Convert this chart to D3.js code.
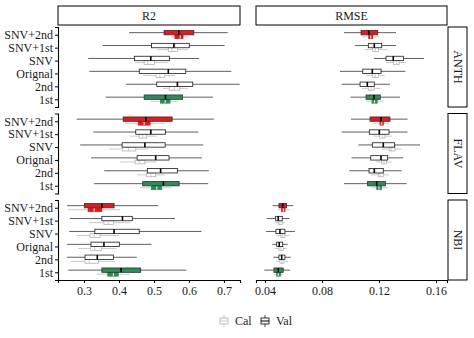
<!DOCTYPE html>
<html><head><meta charset="utf-8">
<script src="https://cdn.jsdelivr.net/npm/d3@7"></script>
<style>body{margin:0;background:#fff}svg{display:block}</style>
</head><body><svg id="c" width="474" height="338"></svg>
<script>
const categories = ["SNV+2nd","SNV+1st","SNV","Orignal","2nd","1st"];
const traits = ["ANTH","FLAV","NBI"];
const metrics = ["R2","RMSE"];
const groups = ["Cal","Val"];
const r2Ticks = [0.3,0.4,0.5,0.6,0.7];
const rmseTicks = [0.04,0.08,0.12,0.16];
// [whiskerMin, q1, median, q3, whiskerMax] per category
const anthR2Val = [[0.429,0.529,0.571,0.614,0.711],[0.353,0.493,0.557,0.601,0.702],[0.312,0.444,0.491,0.544,0.629],[0.315,0.458,0.541,0.591,0.721],[0.420,0.508,0.567,0.611,0.745],[0.362,0.472,0.533,0.582,0.669]];
const anthR2Cal = [[0.550,0.560,0.575,0.583,0.600],[0.509,0.541,0.551,0.568,0.597],[0.446,0.472,0.482,0.501,0.540],[0.469,0.506,0.517,0.531,0.560],[0.526,0.544,0.558,0.574,0.597],[0.490,0.519,0.532,0.546,0.570]];
const anthRmseVal = [[0.0954,0.1074,0.1128,0.1191,0.1319],[0.1032,0.1125,0.1167,0.1219,0.1319],[0.1165,0.1249,0.1300,0.1371,0.1516],[0.0926,0.1086,0.1153,0.1214,0.1385],[0.0938,0.1067,0.1118,0.1167,0.1277],[0.1001,0.1109,0.1165,0.1209,0.1347]];
const anthRmseCal = [[0.1080,0.1128,0.1142,0.1156,0.1200],[0.1100,0.1156,0.1174,0.1196,0.1260],[0.1250,0.1300,0.1324,0.1342,0.1390],[0.1110,0.1153,0.1174,0.1196,0.1240],[0.1080,0.1125,0.1144,0.1165,0.1210],[0.1110,0.1151,0.1168,0.1187,0.1230]];
const flavR2Val = [[0.279,0.412,0.477,0.552,0.671],[0.327,0.448,0.491,0.533,0.627],[0.289,0.409,0.474,0.532,0.641],[0.320,0.452,0.505,0.543,0.637],[0.358,0.481,0.519,0.567,0.657],[0.329,0.468,0.527,0.572,0.655]];
const flavR2Cal = [[0.417,0.455,0.472,0.489,0.531],[0.431,0.458,0.468,0.479,0.508],[0.372,0.410,0.427,0.448,0.484],[0.403,0.446,0.458,0.474,0.508],[0.451,0.479,0.491,0.505,0.531],[0.460,0.493,0.508,0.522,0.550]];
const flavRmseVal = [[0.1003,0.1137,0.1214,0.1277,0.1400],[0.0938,0.1132,0.1202,0.1270,0.1400],[0.1055,0.1153,0.1230,0.1310,0.1488],[0.1008,0.1142,0.1214,0.1261,0.1370],[0.0992,0.1130,0.1167,0.1230,0.1359],[0.0954,0.1120,0.1184,0.1245,0.1394]];
const flavRmseCal = [[0.1160,0.1207,0.1219,0.1230,0.1270],[0.1160,0.1202,0.1223,0.1242,0.1290],[0.1220,0.1272,0.1286,0.1312,0.1360],[0.1180,0.1219,0.1235,0.1253,0.1290],[0.1140,0.1195,0.1207,0.1230,0.1270],[0.1140,0.1184,0.1200,0.1218,0.1260]];
const nbiR2Val = [[0.252,0.301,0.351,0.386,0.512],[0.260,0.351,0.410,0.438,0.560],[0.258,0.331,0.386,0.458,0.636],[0.252,0.320,0.357,0.401,0.493],[0.251,0.303,0.338,0.384,0.451],[0.255,0.351,0.406,0.462,0.593]];
const nbiR2Cal = [[0.254,0.312,0.329,0.351,0.403],[0.315,0.357,0.369,0.384,0.431],[0.279,0.317,0.329,0.346,0.398],[0.283,0.319,0.331,0.351,0.393],[0.262,0.303,0.315,0.341,0.389],[0.336,0.368,0.384,0.398,0.431]];
const nbiRmseVal = [[0.0454,0.0498,0.0524,0.0552,0.0599],[0.0412,0.0475,0.0493,0.0521,0.0571],[0.0407,0.0477,0.0505,0.0540,0.0610],[0.0452,0.0482,0.0500,0.0524,0.0559],[0.0459,0.0498,0.0517,0.0540,0.0580],[0.0395,0.0463,0.0493,0.0528,0.0575]];
const nbiRmseCal = [[0.0490,0.0517,0.0529,0.0540,0.0570],[0.0470,0.0493,0.0505,0.0521,0.0540],[0.0480,0.0512,0.0524,0.0540,0.0570],[0.0470,0.0498,0.0512,0.0529,0.0550],[0.0480,0.0505,0.0519,0.0533,0.0560],[0.0460,0.0482,0.0493,0.0509,0.0530]];

const dataByPanel = {
  "ANTH|R2": {Val: anthR2Val, Cal: anthR2Cal},
  "ANTH|RMSE": {Val: anthRmseVal, Cal: anthRmseCal},
  "FLAV|R2": {Val: flavR2Val, Cal: flavR2Cal},
  "FLAV|RMSE": {Val: flavRmseVal, Cal: flavRmseCal},
  "NBI|R2": {Val: nbiR2Val, Cal: nbiR2Cal},
  "NBI|RMSE": {Val: nbiRmseVal, Cal: nbiRmseCal}
};

const FONT = "'Liberation Serif','Times New Roman',serif";
const svg = d3.select("#c");
const fillScale = d3.scaleOrdinal().domain(categories)
  .range(["#e3191c","#ffffff","#ffffff","#ffffff","#ffffff","#2e8b57"]);
const strokeCol = {Val: "#1a1a1a", Cal: "#b3b3b3"};
const whiskCol = {Val: "#4d4d4d", Cal: "#c4c4c4"};
const medCol = {Val: "#000000", Cal: "#c8c8c8"};

const xScales = {
  R2: d3.scaleLinear().domain([0.2257, 0.746]).range([58, 240]),
  RMSE: d3.scaleLinear().domain([0.0337, 0.1677]).range([256, 447])
};
const tickVals = {R2: r2Ticks, RMSE: rmseTicks};
const panelTops = [27, 113.5, 200];
const panelH = 80;
const stripX = 448, stripW = 19;

// top strips
metrics.forEach(m => {
  const [x0, x1] = xScales[m].range();
  svg.append("rect").attr("x", x0).attr("y", 6).attr("width", x1 - x0).attr("height", 19)
    .attr("fill", "#fff").attr("stroke", "#000").attr("stroke-width", 1);
  svg.append("text").attr("x", (x0 + x1) / 2).attr("y", 19.5).attr("text-anchor", "middle")
    .attr("font-family", FONT).attr("font-size", 12).attr("fill", "#1a1a1a").text(m);
});

traits.forEach((t, ti) => {
  const top = panelTops[ti];
  const y = d3.scalePoint().domain(categories).range([top, top + panelH]).padding(0.6);
  // right strip
  svg.append("rect").attr("x", stripX).attr("y", top).attr("width", stripW).attr("height", panelH)
    .attr("fill", "#fff").attr("stroke", "#000").attr("stroke-width", 1);
  svg.append("text").attr("transform", `translate(${stripX + stripW / 2 - 4},${top + panelH / 2}) rotate(90)`)
    .attr("text-anchor", "middle").attr("font-family", FONT).attr("font-size", 12).attr("fill", "#1a1a1a").text(t);

  metrics.forEach(m => {
    const x = xScales[m];
    const g = svg.append("g");
    const d = dataByPanel[t + "|" + m];
    const off = {Val: -2.1, Cal: 2.0};
    const hh = {Val: 2.2, Cal: 1.9};
    ["Cal", "Val"].forEach(gr => {
      const rows = d[gr].map((v, i) => ({cat: categories[i], v}));
      const bg = g.selectAll(null).data(rows).enter().append("g");
      bg.append("line")
        .attr("x1", r => x(r.v[0])).attr("x2", r => x(r.v[4]))
        .attr("y1", r => y(r.cat) + off[gr]).attr("y2", r => y(r.cat) + off[gr])
        .attr("stroke", whiskCol[gr]).attr("stroke-width", 0.9);
      bg.append("rect")
        .attr("x", r => x(r.v[1])).attr("width", r => x(r.v[3]) - x(r.v[1]))
        .attr("y", r => y(r.cat) + off[gr] - hh[gr]).attr("height", hh[gr] * 2)
        .attr("fill", r => fillScale(r.cat))
        .attr("stroke", r => fillScale(r.cat) === "#ffffff" ? strokeCol[gr] : (gr === "Val" ? "#333" : fillScale(r.cat)))
        .attr("stroke-width", 0.8);
      bg.append("line")
        .attr("x1", r => x(r.v[2])).attr("x2", r => x(r.v[2]))
        .attr("y1", r => y(r.cat) + off[gr] - hh[gr]).attr("y2", r => y(r.cat) + off[gr] + hh[gr])
        .attr("stroke", r => gr === "Cal" && fillScale(r.cat) !== "#ffffff" ? "#eeeeee" : medCol[gr])
        .attr("stroke-width", gr === "Val" ? 1.6 : 1);
    });

    if (m === "R2") {
      const ax = svg.append("g").attr("transform", `translate(${x.range()[0]},0)`)
        .call(d3.axisLeft(y).tickSize(3).tickPadding(2));
      ax.select(".domain").attr("stroke", "#000").attr("stroke-width", 1.1);
      ax.selectAll(".tick line").attr("stroke", "#000").attr("stroke-width", 1);
      ax.selectAll(".tick text").attr("font-family", FONT).attr("font-size", 12).attr("fill", "#1a1a1a");
    }
    if (ti === traits.length - 1) {
      const ax = svg.append("g").attr("transform", `translate(0,${top + panelH})`)
        .call(d3.axisBottom(x).tickValues(tickVals[m]).tickSize(3).tickPadding(3)
          .tickFormat(m === "R2" ? d3.format(".1f") : d3.format(".2f")));
      ax.select(".domain").attr("stroke", "#000").attr("stroke-width", 1.1);
      ax.selectAll(".tick line").attr("stroke", "#000").attr("stroke-width", 1);
      ax.selectAll(".tick text").attr("font-family", FONT).attr("font-size", 12).attr("fill", "#1a1a1a");
    }
  });
});

// legend
const legendItems = [{g: "Cal", x: 220}, {g: "Val", x: 261}];
legendItems.forEach(it => {
  const lg = svg.append("g").attr("transform", `translate(${it.x},321)`);
  const c = strokeCol[it.g];
  lg.append("line").attr("x1", 4).attr("x2", 4).attr("y1", -6).attr("y2", -3).attr("stroke", whiskCol[it.g]);
  lg.append("line").attr("x1", 4).attr("x2", 4).attr("y1", 3).attr("y2", 6).attr("stroke", whiskCol[it.g]);
  lg.append("rect").attr("x", 0).attr("y", -3).attr("width", 8).attr("height", 6).attr("fill", "#fff").attr("stroke", c).attr("stroke-width", 0.9);
  lg.append("line").attr("x1", 0).attr("x2", 8).attr("y1", 0).attr("y2", 0).attr("stroke", medCol[it.g]).attr("stroke-width", 1);
  lg.append("text").attr("x", 15).attr("y", 4).attr("font-family", FONT).attr("font-size", 12).attr("fill", "#1a1a1a").text(it.g);
});
</script></body></html>
